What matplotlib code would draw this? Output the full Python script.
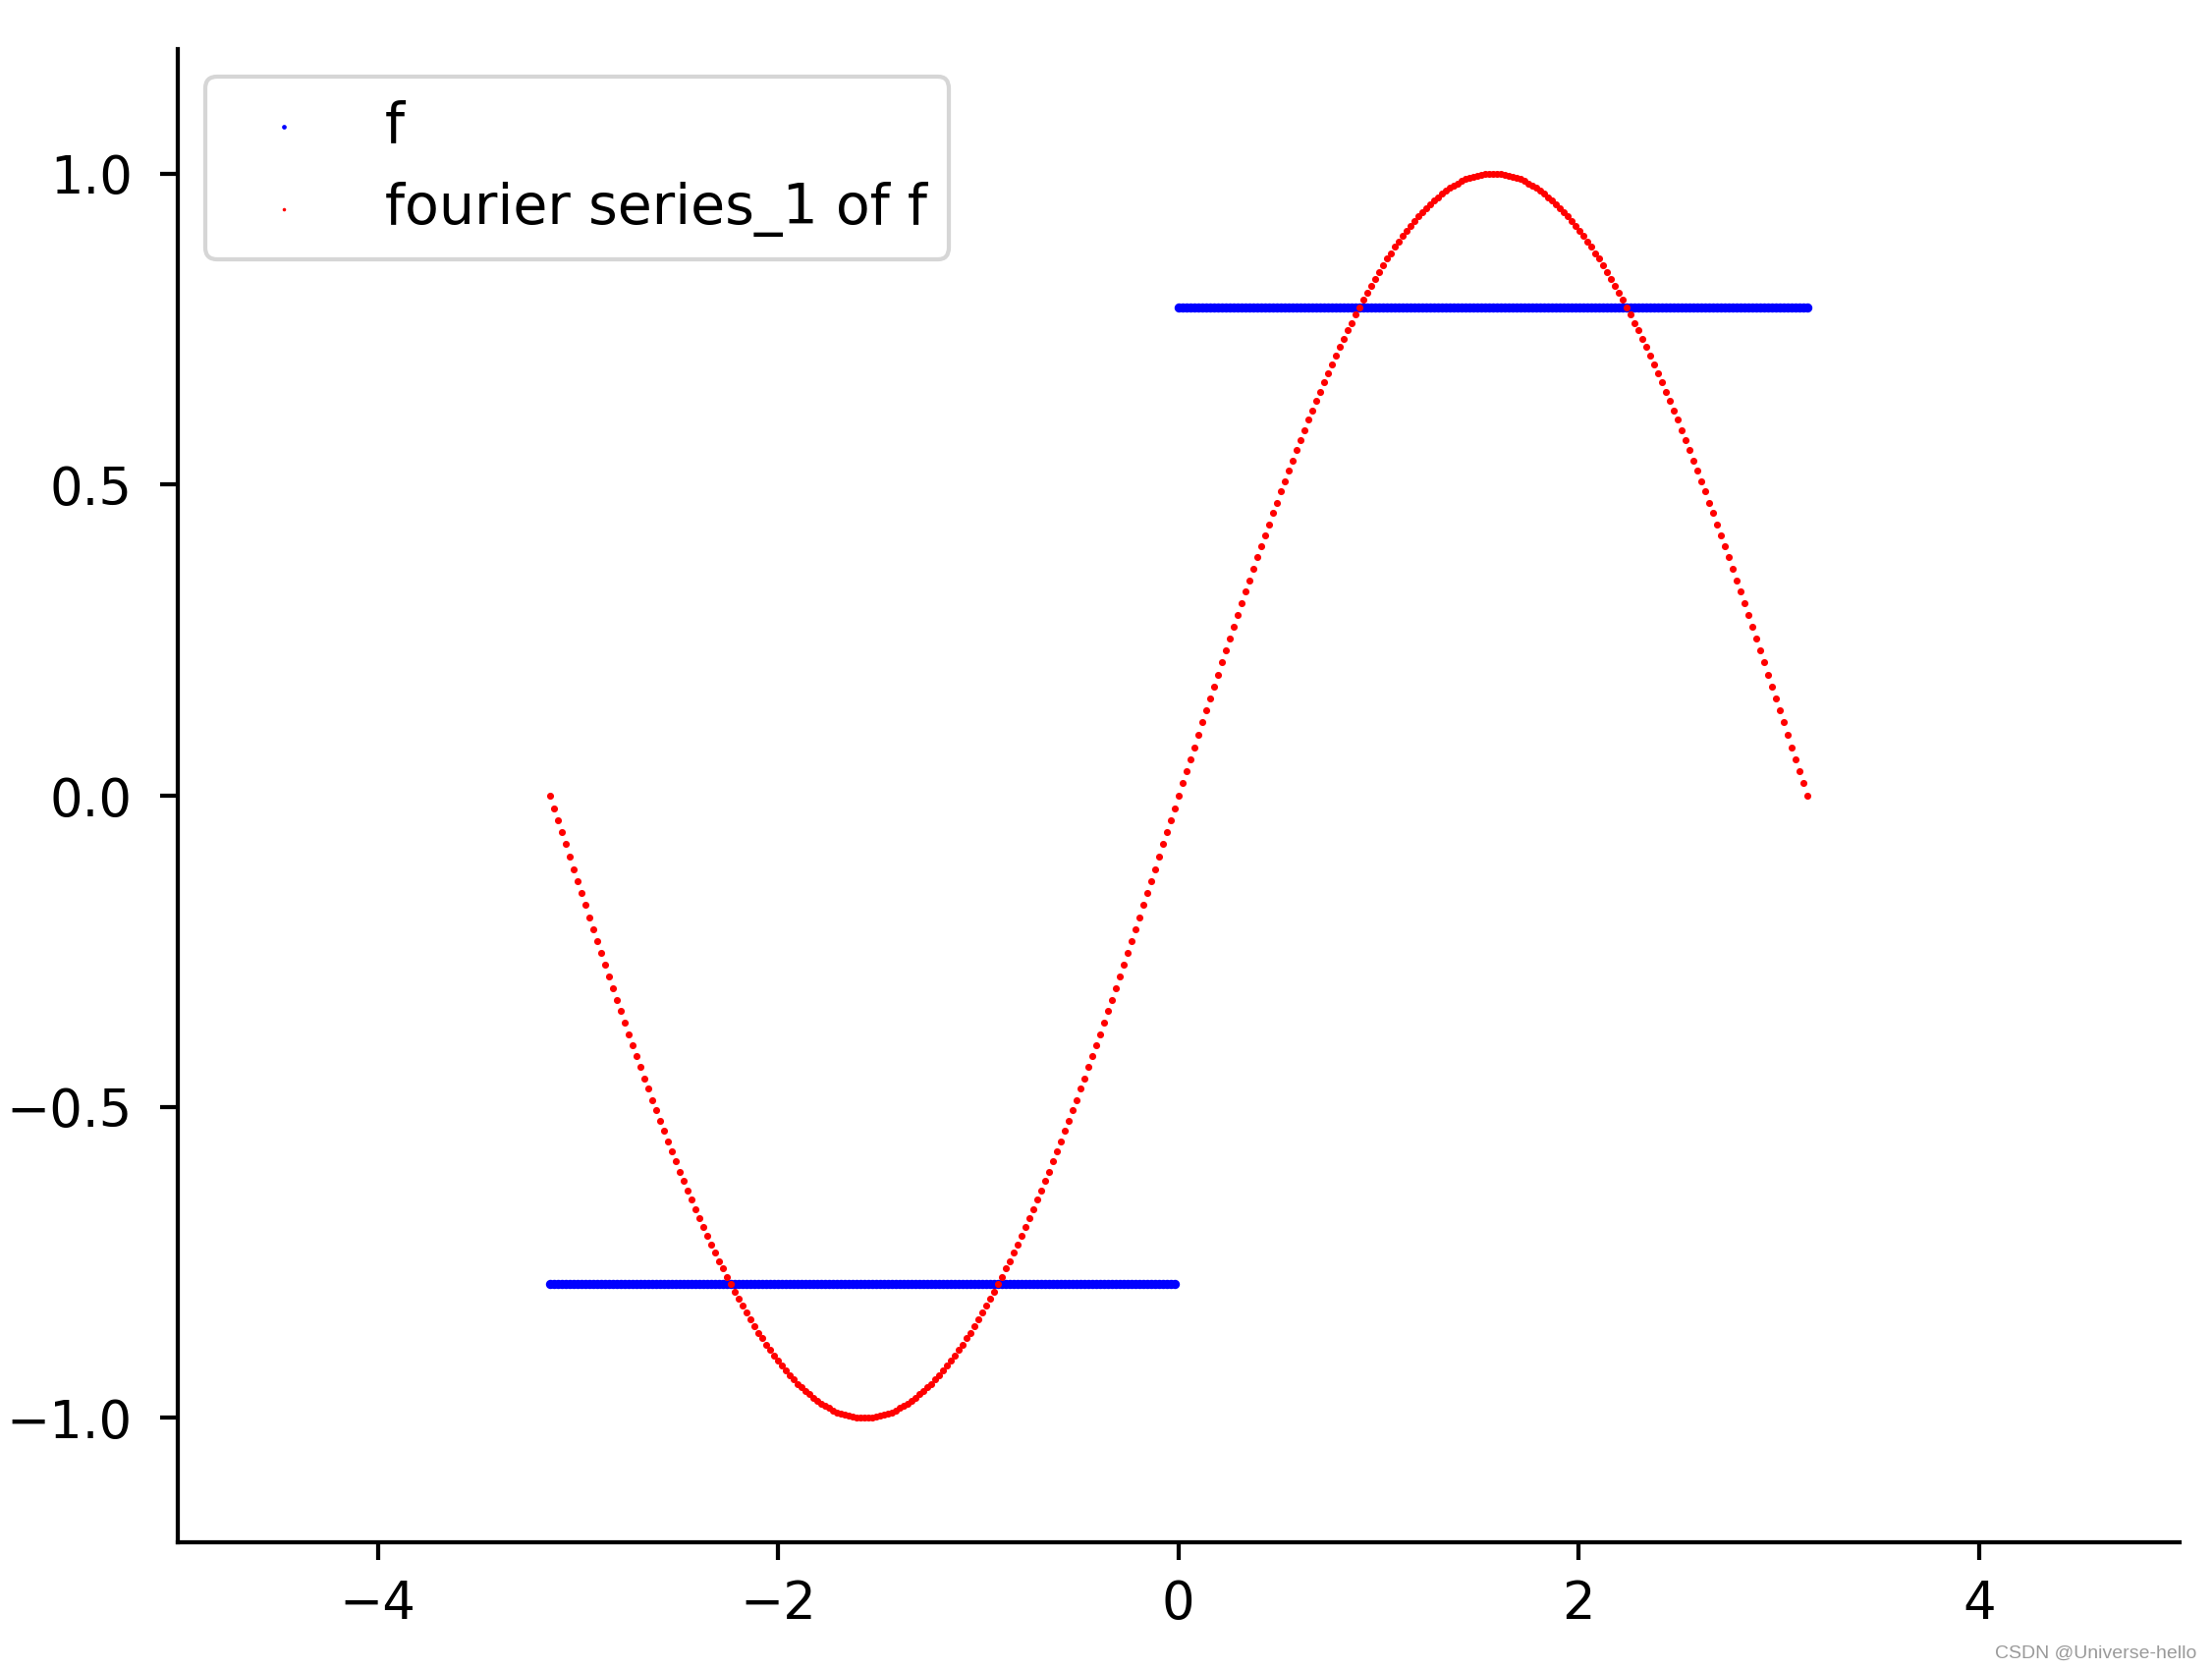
import matplotlib
matplotlib.use("Agg")
import matplotlib.pyplot as plt

# x samples on [-pi, pi] (step pi/160)
x_vals = [
    -3.142,
    -3.122, -3.102, -3.083, -3.063, -3.043, -3.024, -3.004, -2.985, -2.965, -2.945,
    -2.926, -2.906, -2.886, -2.867, -2.847, -2.827, -2.808, -2.788, -2.769, -2.749,
    -2.729, -2.710, -2.690, -2.670, -2.651, -2.631, -2.611, -2.592, -2.572, -2.553,
    -2.533, -2.513, -2.494, -2.474, -2.454, -2.435, -2.415, -2.395, -2.376, -2.356,
    -2.337, -2.317, -2.297, -2.278, -2.258, -2.238, -2.219, -2.199, -2.179, -2.160,
    -2.140, -2.121, -2.101, -2.081, -2.062, -2.042, -2.022, -2.003, -1.983, -1.963,
    -1.944, -1.924, -1.905, -1.885, -1.865, -1.846, -1.826, -1.806, -1.787, -1.767,
    -1.748, -1.728, -1.708, -1.689, -1.669, -1.649, -1.630, -1.610, -1.590, -1.571,
    -1.551, -1.532, -1.512, -1.492, -1.473, -1.453, -1.433, -1.414, -1.394, -1.374,
    -1.355, -1.335, -1.316, -1.296, -1.276, -1.257, -1.237, -1.217, -1.198, -1.178,
    -1.158, -1.139, -1.119, -1.100, -1.080, -1.060, -1.041, -1.021, -1.001, -0.982,
    -0.962, -0.942, -0.923, -0.903, -0.884, -0.864, -0.844, -0.825, -0.805, -0.785,
    -0.766, -0.746, -0.726, -0.707, -0.687, -0.668, -0.648, -0.628, -0.609, -0.589,
    -0.569, -0.550, -0.530, -0.511, -0.491, -0.471, -0.452, -0.432, -0.412, -0.393,
    -0.373, -0.353, -0.334, -0.314, -0.295, -0.275, -0.255, -0.236, -0.216, -0.196,
    -0.177, -0.157, -0.137, -0.118, -0.098, -0.079, -0.059, -0.039, -0.020,
    0.000, 0.020, 0.039, 0.059, 0.079, 0.098, 0.118, 0.137, 0.157, 0.177,
    0.196, 0.216, 0.236, 0.255, 0.275, 0.295, 0.314, 0.334, 0.353, 0.373,
    0.393, 0.412, 0.432, 0.452, 0.471, 0.491, 0.511, 0.530, 0.550, 0.569,
    0.589, 0.609, 0.628, 0.648, 0.668, 0.687, 0.707, 0.726, 0.746, 0.766,
    0.785, 0.805, 0.825, 0.844, 0.864, 0.884, 0.903, 0.923, 0.942, 0.962,
    0.982, 1.001, 1.021, 1.041, 1.060, 1.080, 1.100, 1.119, 1.139, 1.158,
    1.178, 1.198, 1.217, 1.237, 1.257, 1.276, 1.296, 1.316, 1.335, 1.355,
    1.374, 1.394, 1.414, 1.433, 1.453, 1.473, 1.492, 1.512, 1.532, 1.551,
    1.571, 1.590, 1.610, 1.630, 1.649, 1.669, 1.689, 1.708, 1.728, 1.748,
    1.767, 1.787, 1.806, 1.826, 1.846, 1.865, 1.885, 1.905, 1.924, 1.944,
    1.963, 1.983, 2.003, 2.022, 2.042, 2.062, 2.081, 2.101, 2.121, 2.140,
    2.160, 2.179, 2.199, 2.219, 2.238, 2.258, 2.278, 2.297, 2.317, 2.337,
    2.356, 2.376, 2.395, 2.415, 2.435, 2.454, 2.474, 2.494, 2.513, 2.533,
    2.553, 2.572, 2.592, 2.611, 2.631, 2.651, 2.670, 2.690, 2.710, 2.729,
    2.749, 2.769, 2.788, 2.808, 2.827, 2.847, 2.867, 2.886, 2.906, 2.926,
    2.945, 2.965, 2.985, 3.004, 3.024, 3.043, 3.063, 3.083, 3.102, 3.122,
    3.142,
]

# red dots: first fourier term of f
fourier_y = [
    0.000, -0.020, -0.039, -0.059, -0.078, -0.098, -0.118, -0.137, -0.156, -0.176,
    -0.195, -0.214, -0.233, -0.252, -0.271, -0.290, -0.309, -0.328, -0.346, -0.364,
    -0.383, -0.401, -0.419, -0.436, -0.454, -0.471, -0.489, -0.506, -0.522, -0.539,
    -0.556, -0.572, -0.588, -0.604, -0.619, -0.634, -0.649, -0.664, -0.679, -0.693,
    -0.707, -0.721, -0.734, -0.748, -0.760, -0.773, -0.785, -0.797, -0.809, -0.820,
    -0.831, -0.842, -0.853, -0.863, -0.872, -0.882, -0.891, -0.900, -0.908, -0.916,
    -0.924, -0.931, -0.938, -0.945, -0.951, -0.957, -0.962, -0.968, -0.972, -0.977,
    -0.981, -0.984, -0.988, -0.991, -0.993, -0.995, -0.997, -0.998, -0.999, -1.000,
    -1.000,
    -1.000, -0.999, -0.998, -0.997, -0.995, -0.993, -0.991, -0.988, -0.984, -0.981,
    -0.977, -0.972, -0.968, -0.962, -0.957, -0.951, -0.945, -0.938, -0.931, -0.924,
    -0.916, -0.908, -0.900, -0.891, -0.882, -0.872, -0.863, -0.853, -0.842, -0.831,
    -0.820, -0.809, -0.797, -0.785, -0.773, -0.760, -0.748, -0.734, -0.721, -0.707,
    -0.693, -0.679, -0.664, -0.649, -0.634, -0.619, -0.604, -0.588, -0.572, -0.556,
    -0.539, -0.522, -0.506, -0.489, -0.471, -0.454, -0.436, -0.419, -0.401, -0.383,
    -0.364, -0.346, -0.328, -0.309, -0.290, -0.271, -0.252, -0.233, -0.214, -0.195,
    -0.176, -0.156, -0.137, -0.118, -0.098, -0.078, -0.059, -0.039, -0.020, 0.000,
    0.020, 0.039, 0.059, 0.078, 0.098, 0.118, 0.137, 0.156, 0.176, 0.195,
    0.214, 0.233, 0.252, 0.271, 0.290, 0.309, 0.328, 0.346, 0.364, 0.383,
    0.401, 0.419, 0.436, 0.454, 0.471, 0.489, 0.506, 0.522, 0.539, 0.556,
    0.572, 0.588, 0.604, 0.619, 0.634, 0.649, 0.664, 0.679, 0.693, 0.707,
    0.721, 0.734, 0.748, 0.760, 0.773, 0.785, 0.797, 0.809, 0.820, 0.831,
    0.842, 0.853, 0.863, 0.872, 0.882, 0.891, 0.900, 0.908, 0.916, 0.924,
    0.931, 0.938, 0.945, 0.951, 0.957, 0.962, 0.968, 0.972, 0.977, 0.981,
    0.984, 0.988, 0.991, 0.993, 0.995, 0.997, 0.998, 0.999, 1.000, 1.000,
    1.000, 0.999, 0.998, 0.997, 0.995, 0.993, 0.991, 0.988, 0.984, 0.981,
    0.977, 0.972, 0.968, 0.962, 0.957, 0.951, 0.945, 0.938, 0.931, 0.924,
    0.916, 0.908, 0.900, 0.891, 0.882, 0.872, 0.863, 0.853, 0.842, 0.831,
    0.820, 0.809, 0.797, 0.785, 0.773, 0.760, 0.748, 0.734, 0.721, 0.707,
    0.693, 0.679, 0.664, 0.649, 0.634, 0.619, 0.604, 0.588, 0.572, 0.556,
    0.539, 0.522, 0.506, 0.489, 0.471, 0.454, 0.436, 0.419, 0.401, 0.383,
    0.364, 0.346, 0.328, 0.309, 0.290, 0.271, 0.252, 0.233, 0.214, 0.195,
    0.176, 0.156, 0.137, 0.118, 0.098, 0.078, 0.059, 0.039, 0.020, 0.000,
]

# blue dots: the step function f (two levels)
f_low, f_high = -0.785, 0.785
f_y = [f_low] * 160 + [f_high] * 161

labels = ["f", "fourier series_1 of f"]

S = 3.8  # everything drawn ~3.8x the default size
plt.rcParams.update({
    "font.size": 10 * S,
    "axes.linewidth": 0.8 * S,
    "xtick.major.size": 3.5 * S,
    "ytick.major.size": 3.5 * S,
    "xtick.major.width": 0.8 * S,
    "ytick.major.width": 0.8 * S,
    "xtick.major.pad": 3.5 * S,
    "ytick.major.pad": 20,
    "patch.linewidth": 0.8 * S,
})

fig = plt.figure(figsize=(22.52, 17.0), dpi=100)
ax = fig.add_axes([181 / 2252, 1 - 1570 / 1700, 2037.5 / 2252, 1520 / 1700])

ax.scatter(x_vals, f_y, s=46, c="blue", linewidths=0, label=labels[0])
ax.scatter(x_vals, fourier_y, s=26, c="red", linewidths=0, label=labels[1])

ax.set_xlim(-5, 5)
ax.set_ylim(-1.2, 1.2)
ax.set_xticks([-4, -2, 0, 2, 4])
ax.set_yticks([-1.0, -0.5, 0.0, 0.5, 1.0])
ax.spines["top"].set_visible(False)
ax.spines["right"].set_visible(False)

ax.legend(loc="upper left", markerscale=0.5, fontsize=41)

fig.text(0.993, 0.005, "CSDN @Universe-hello", ha="right", va="bottom",
         fontsize=14, color="#9a9a9a", family="Liberation Sans")

fig.savefig("out.png", dpi=100)
